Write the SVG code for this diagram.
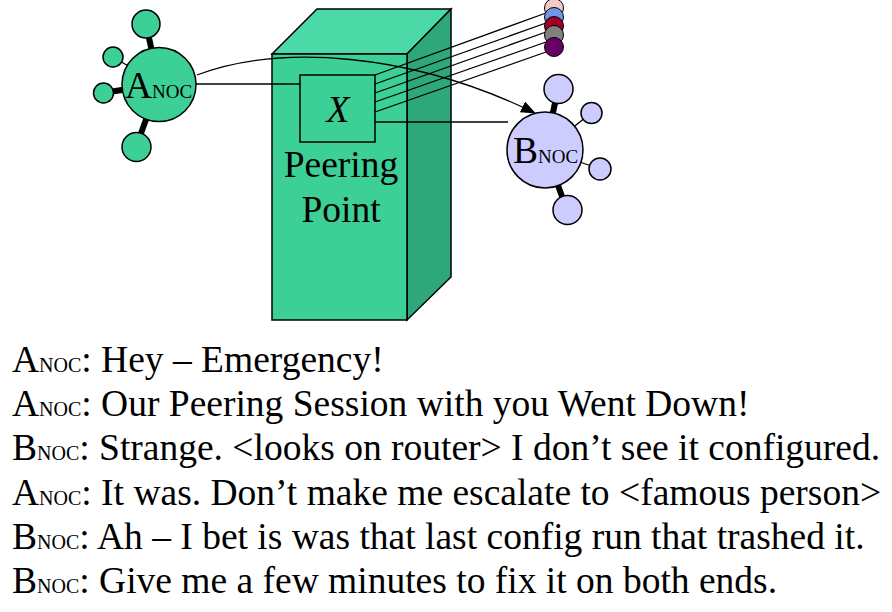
<svg xmlns="http://www.w3.org/2000/svg" width="892" height="612" viewBox="0 0 892 612">
<style>
.edge{stroke:#000;stroke-width:1.3;fill:none}
.ga{fill:#3ccf96;stroke:#000;stroke-width:1.5}
.gb{fill:#ccccff;stroke:#000;stroke-width:1.5}
.spk{stroke:#000;stroke-width:6}
.spt{stroke:#000;stroke-width:1.3}
text{font-family:'Liberation Serif','DejaVu Serif',serif;fill:#000}
.big{font-size:37.5px}
.sm{font-size:20px}
.lsm{font-size:19px}
</style>
<defs>
<marker id="ah" markerWidth="15" markerHeight="12" refX="14" refY="6" orient="auto" markerUnits="userSpaceOnUse">
<path d="M0,0 L15,6 L0,12 Z" fill="#000"/>
</marker>
</defs>
<rect width="892" height="612" fill="#fff"/>

<g id="peering-point">
<polygon points="272,54 317,9 451,9 407,54" fill="#4cd9a8" stroke="#000" stroke-width="1.5"/>
<polygon points="407,54 451,9 451,277 407,320" fill="#2ea77a" stroke="#000" stroke-width="1.5"/>
<rect x="272" y="54" width="135" height="266" fill="#3ccf96" stroke="#000" stroke-width="1.5"/>
<rect x="300" y="75" width="75" height="67" fill="#3ccf96" stroke="#000" stroke-width="1.5"/>
<text class="big" x="338" y="122" text-anchor="middle" font-style="italic">X</text>
<text class="big" x="341" y="177" text-anchor="middle">Peering</text>
<text class="big" x="341" y="222" text-anchor="middle">Point</text>
</g>

<g id="connectors">
<line class="edge" x1="196" y1="84" x2="300" y2="84"/>
<line class="edge" x1="375" y1="122" x2="508" y2="122"/>
<path class="edge" d="M197,75 C280,44 410,52 535,113" marker-end="url(#ah)"/>
<line class="edge" x1="375" y1="75" x2="546" y2="13"/>
<line class="edge" x1="375" y1="84" x2="546" y2="23"/>
<line class="edge" x1="375" y1="93" x2="546" y2="32"/>
<line class="edge" x1="375" y1="102" x2="546" y2="42"/>
<line class="edge" x1="375" y1="112" x2="546" y2="52"/>
</g>

<g id="node-anoc">
<line class="spk" x1="159" y1="84" x2="146" y2="24"/>
<line class="spt" x1="159" y1="84" x2="113" y2="57"/>
<line class="spk" x1="159" y1="84" x2="103" y2="93"/>
<line class="spk" x1="159" y1="84" x2="136" y2="147"/>
<circle class="ga" cx="146" cy="24" r="14"/>
<circle class="ga" cx="113" cy="57" r="10"/>
<circle class="ga" cx="103.5" cy="93" r="10"/>
<circle class="ga" cx="136.5" cy="147" r="14.5"/>
<circle class="ga" cx="159" cy="84.5" r="37"/>
<text x="125" y="98"><tspan class="big">A</tspan><tspan class="lsm">NOC</tspan></text>
</g>

<g id="node-bnoc">
<line class="spk" x1="545" y1="150" x2="558" y2="89"/>
<line class="spt" x1="545" y1="150" x2="591" y2="113"/>
<line class="spt" x1="545" y1="150" x2="600" y2="169"/>
<line class="spk" x1="545" y1="150" x2="567" y2="210"/>
<circle class="gb" cx="558.5" cy="89" r="14.5"/>
<circle class="gb" cx="591.5" cy="113" r="10.5"/>
<circle class="gb" cx="600" cy="169" r="11"/>
<circle class="gb" cx="567.5" cy="210" r="14.5"/>
<circle class="gb" cx="545" cy="150" r="38"/>
<text x="513" y="163"><tspan class="big">B</tspan><tspan class="lsm">NOC</tspan></text>
</g>

<g id="node-peers">
<circle cx="554" cy="8" r="9.5" fill="#f4c9c6" stroke="#000" stroke-width="1"/>
<circle cx="554" cy="17" r="9.5" fill="#6f97ec" stroke="#000" stroke-width="1"/>
<circle cx="554" cy="26" r="9.5" fill="#a00028" stroke="#000" stroke-width="1"/>
<circle cx="554" cy="35" r="9.5" fill="#808080" stroke="#000" stroke-width="1"/>
<circle cx="554" cy="47" r="9.5" fill="#660066" stroke="#000" stroke-width="1"/>
</g>

<g id="dialogue">
<text x="12" y="372"><tspan class="big">A</tspan><tspan class="sm">NOC</tspan><tspan class="big">: Hey – Emergency!</tspan></text>
<text x="12" y="416"><tspan class="big">A</tspan><tspan class="sm">NOC</tspan><tspan class="big">: Our Peering Session with you Went Down!</tspan></text>
<text x="12" y="460"><tspan class="big">B</tspan><tspan class="sm">NOC</tspan><tspan class="big">: Strange. &lt;looks on router&gt; I don’t see it configured.</tspan></text>
<text x="12" y="505"><tspan class="big">A</tspan><tspan class="sm">NOC</tspan><tspan class="big">: It was. Don’t make me escalate to &lt;famous person&gt;</tspan></text>
<text x="12" y="549"><tspan class="big">B</tspan><tspan class="sm">NOC</tspan><tspan class="big">: Ah – I bet is was that last config run that trashed it.</tspan></text>
<text x="12" y="593"><tspan class="big">B</tspan><tspan class="sm">NOC</tspan><tspan class="big">: Give me a few minutes to fix it on both ends.</tspan></text>
</g>
</svg>
